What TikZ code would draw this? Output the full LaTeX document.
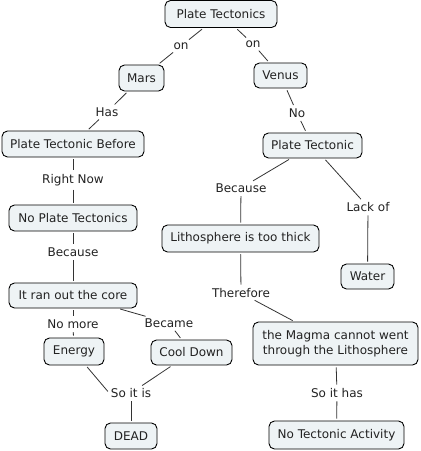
\documentclass[tikz,border=0pt]{standalone}
\usepackage{fontspec}
\setmainfont{DejaVu Sans}
\definecolor{nodefill}{HTML}{EEF3F5}
\definecolor{txt}{HTML}{222222}
\definecolor{linkc}{HTML}{333333}
\begin{document}
\begin{tikzpicture}[x=1pt,y=-1pt,
  concept/.style={draw=black, line width=0.9pt, fill=nodefill, rounded corners=5.5pt,
    text=txt, font=\fontsize{12}{15}\selectfont, inner sep=0pt, align=center},
  lab/.style={fill=white, text=txt, font=\fontsize{12}{15}\selectfont, inner sep=1.5pt},
  link/.style={draw=linkc, line width=0.8pt, shorten <=2pt, shorten >=2pt}]
\useasboundingbox (0,0) rectangle (421,451);
% concepts
\node[concept, minimum width=112pt, minimum height=27pt] (pt) at (221,14) {Plate Tectonics};
\node[concept, minimum width=45pt, minimum height=26pt] (mars) at (141.5,78) {Mars};
\node[concept, minimum width=53pt, minimum height=25pt] (venus) at (280.5,75.5) {Venus};
\node[concept, minimum width=142pt, minimum height=26pt] (ptb) at (73,144) {Plate Tectonic Before};
\node[concept, minimum width=99pt, minimum height=25pt] (ptr) at (312.5,145.5) {Plate Tectonic};
\node[concept, minimum width=128pt, minimum height=26pt] (npt) at (73,218) {No Plate Tectonics};
\node[concept, minimum width=157pt, minimum height=27pt] (litho) at (240.5,238.5) {Lithosphere is too thick};
\node[concept, minimum width=53pt, minimum height=25pt] (water) at (367.5,276.5) {Water};
\node[concept, minimum width=128pt, minimum height=25pt] (core) at (73,295.5) {It ran out the core};
\node[concept, minimum width=60pt, minimum height=27pt] (energy) at (74,351.5) {Energy};
\node[concept, minimum width=81pt, minimum height=25pt] (cool) at (191.5,352.5) {Cool Down};
\node[concept, minimum width=165pt, minimum height=43pt] (magma) at (335.5,343.5) {the Magma cannot went\\through the Lithosphere};
\node[concept, minimum width=52pt, minimum height=26pt] (dead) at (131,436) {DEAD};
\node[concept, minimum width=135pt, minimum height=28pt] (nta) at (336.5,435) {No Tectonic Activity};
% labels
\node[lab] (on1) at (181,46) {on};
\node[lab] (on2) at (253,44) {on};
\node[lab] (has) at (107,112) {Has};
\node[lab] (no) at (297,113) {No};
\node[lab] (rightnow) at (73,180) {Right Now};
\node[lab] (because2) at (241,188) {Because};
\node[lab] (lackof) at (368,207) {Lack of};
\node[lab] (because1) at (73,252) {Because};
\node[lab] (therefore) at (241,293) {Therefore};
\node[lab] (nomore) at (73,324) {No more};
\node[lab] (became) at (169,323) {Became};
\node[lab] (soitis) at (131,393) {So it is};
\node[lab] (soithas) at (337,393) {So it has};
% links
\draw[link] (pt) -- (on1);
\draw[link] (on1) -- (mars);
\draw[link] (pt) -- (on2);
\draw[link] (on2) -- (venus);
\draw[link] (mars) -- (has);
\draw[link] (has) -- (ptb);
\draw[link] (venus) -- (no);
\draw[link] (no) -- (ptr);
\draw[link] (ptb) -- (rightnow);
\draw[link] (rightnow) -- (npt);
\draw[link] (npt) -- (because1);
\draw[link] (because1) -- (core);
\draw[link] (core) -- (nomore);
\draw[link] (nomore) -- (energy);
\draw[link] (core) -- (became);
\draw[link] (became) -- (cool);
\draw[link] (energy) -- (soitis.west);
\draw[link] (cool) -- (soitis);
\draw[link] (soitis) -- (dead);
\draw[link] (ptr) -- (because2);
\draw[link] (because2) -- (litho);
\draw[link] (ptr) -- (lackof);
\draw[link] (lackof) -- (water);
\draw[link] (litho) -- (therefore);
\draw[link] (therefore) -- (magma);
\draw[link] (magma) -- (soithas);
\draw[link] (soithas) -- (nta);
\end{tikzpicture}
\end{document}
